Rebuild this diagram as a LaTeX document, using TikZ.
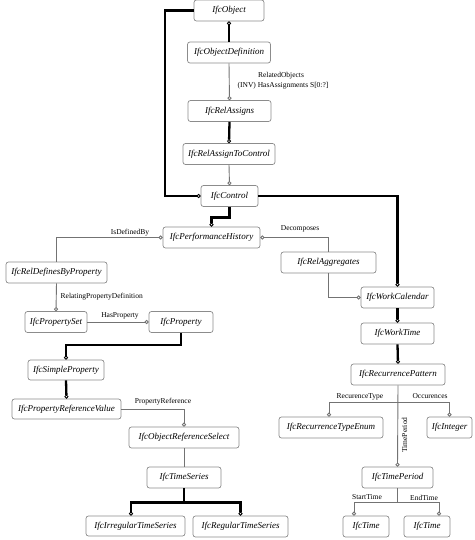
\documentclass[tikz,border=0pt]{standalone}
\usepackage{fontspec}
\setmainfont{Liberation Serif}
\usetikzlibrary{arrows.meta}
\begin{document}
\begin{tikzpicture}[x=1pt,y=-1pt,
  ent/.style={draw=black!45, line width=0.7pt, rounded corners=2.5pt, fill=white,
    inner sep=0pt, minimum height=21pt, font=\fontsize{9}{10}\selectfont\itshape},
  thin/.style={draw=black!55, line width=0.9pt},
  thick/.style={draw=black, line width=2.3pt},
  circ/.style={-{Circle[length=4pt,width=4pt,line width=0.8pt,fill=white]}},
  circs/.style={{Circle[length=4pt,width=4pt,line width=0.8pt,fill=white]}-},
  lab/.style={font=\fontsize{7.5}{8}\selectfont, inner sep=0.5pt}]
\useasboundingbox (0,0) rectangle (474,540);
% nodes
\node[ent, minimum width=70pt] (obj) at (229,10.5) {IfcObject};
\node[ent, minimum width=83pt] (objdef) at (229,52.5) {IfcObjectDefinition};
\node[ent, minimum width=83pt] (relassigns) at (229.5,111) {IfcRelAssigns};
\node[ent, minimum width=92pt] (relctrl) at (229,154) {IfcRelAssignToControl};
\node[ent, minimum width=57pt] (control) at (229.5,196) {IfcControl};
\node[ent, minimum width=97pt] (perfhist) at (211.5,237.5) {IfcPerformanceHistory};
\node[ent, minimum width=101pt] (reldefprop) at (56.5,272.5) {IfcRelDefinesByProperty};
\node[ent, minimum width=62pt] (propset) at (56,322) {IfcPropertySet};
\node[ent, minimum width=64pt] (prop) at (181,322) {IfcProperty};
\node[ent, minimum width=76pt, minimum height=20pt] (simpleprop) at (66,370) {IfcSimpleProperty};
\node[ent, minimum width=109pt, minimum height=20pt] (proprefval) at (66.5,409) {IfcPropertyReferenceValue};
\node[ent, minimum width=110pt] (objrefsel) at (184,437.5) {IfcObjectReferenceSelect};
\node[ent, minimum width=74pt] (timeseries) at (184,477.5) {IfcTimeSeries};
\node[ent, minimum width=99pt, minimum height=20pt] (irreg) at (135.5,526) {IfcIrregularTimeSeries};
\node[ent, minimum width=95pt] (reg) at (240.5,526.5) {IfcRegularTimeSeries};
\node[ent, minimum width=95pt] (relagg) at (328.5,262.5) {IfcRelAggregates};
\node[ent, minimum width=73pt] (workcal) at (397.5,297.5) {IfcWorkCalendar};
\node[ent, minimum width=73pt] (worktime) at (397.5,333.5) {IfcWorkTime};
\node[ent, minimum width=94pt] (recpat) at (398,374.5) {IfcRecurrencePattern};
\node[ent, minimum width=104pt] (rectype) at (331,427.5) {IfcRecurrenceTypeEnum};
\node[ent, minimum width=45pt] (integer) at (449.5,427.5) {IfcInteger};
\node[ent, minimum width=71pt] (timeperiod) at (397.5,477.5) {IfcTimePeriod};
\node[ent, minimum width=46pt] (time1) at (366,526.5) {IfcTime};
\node[ent, minimum width=46pt] (time2) at (427,526.5) {IfcTime};
% helper coordinates
\coordinate (cA) at (165,196);
\coordinate (cR) at (398,402);
% connectors
\draw[thick, circ] (objdef.north) -- (obj.south);
\draw[thin, circ] (objdef.south) -- (relassigns.north);
\draw[thick, circ] (relassigns.south) -- (relctrl.north);
\draw[thin, circ] (relctrl.south) -- (control.north);
\draw[thick, circ] (obj.west) -| (cA) -- (control.west);
\draw[thick, circ] (control.south) -- ++(0,10.5) -| (perfhist.north);
\draw[thick, circ] (control.east) -| (workcal.north);
\draw[thin, circs] (perfhist.west) -| (reldefprop.north);
\draw[thin, circs] (perfhist.east) -| (relagg.north);
\draw[thin, circ] (relagg.south) |- (workcal.west);
\draw[thick, circ] (workcal.south) -- (worktime.north);
\draw[thick, circ] (worktime.south) -- (recpat.north);
\draw[thin, circ] (reldefprop.south) -- (propset.north);
\draw[thin, circ] (propset.east) -- (prop.west);
\draw[thick, circ] (prop.south) -- ++(0,12) -| (simpleprop.north);
\draw[thick, circ] (simpleprop.south) -- (proprefval.north);
\draw[thin, circ] (proprefval.east) -| (objrefsel.north);
\draw[thin] (objrefsel.south) -- (timeseries.north);
\draw[thick, circ] (timeseries.south) -- ++(0,14) -| ([xshift=-4.5pt]irreg.north);
\draw[thick, circ] (timeseries.south) -- ++(0,14) -| (reg.north);
\draw[thin, circ] (recpat.south) -- (timeperiod.north);
\draw[thin, circ] (cR) -| ([xshift=-2pt]rectype.north);
\draw[thin, circ] (cR) -| (integer.north);
\draw[thin, circ] (timeperiod.south) -- ++(0,14.5) -| ([xshift=-12pt]time1.north);
\draw[thin, circ] (timeperiod.south) -- ++(0,14.5) -| ([xshift=12pt]time2.north);
% labels
\node[lab] (l1) at (281,76) {RelatedObjects};
\node[lab] (l2) at (283,86) {(INV) HasAssignments S[0:?]};
\node[lab] (l3) at (130,233) {IsDefinedBy};
\node[lab] (l4) at (300,229) {Decomposes};
\node[lab, anchor=west] (l5) at (60,297) {RelatingPropertyDefinition};
\node[lab] (l6) at (120,316) {HasProperty};
\node[lab] (l7) at (163,402) {PropertyReference};
\node[lab] (l8) at (360,396.5) {RecurenceType};
\node[lab] (l9) at (430,396.5) {Occurences};
\node[lab, rotate=90] (l10) at (404.5,435) {TimePeriod};
\node[lab] (l11) at (367,497.5) {StartTime};
\node[lab] (l12) at (424,497.5) {EndTime};
\end{tikzpicture}
\end{document}
